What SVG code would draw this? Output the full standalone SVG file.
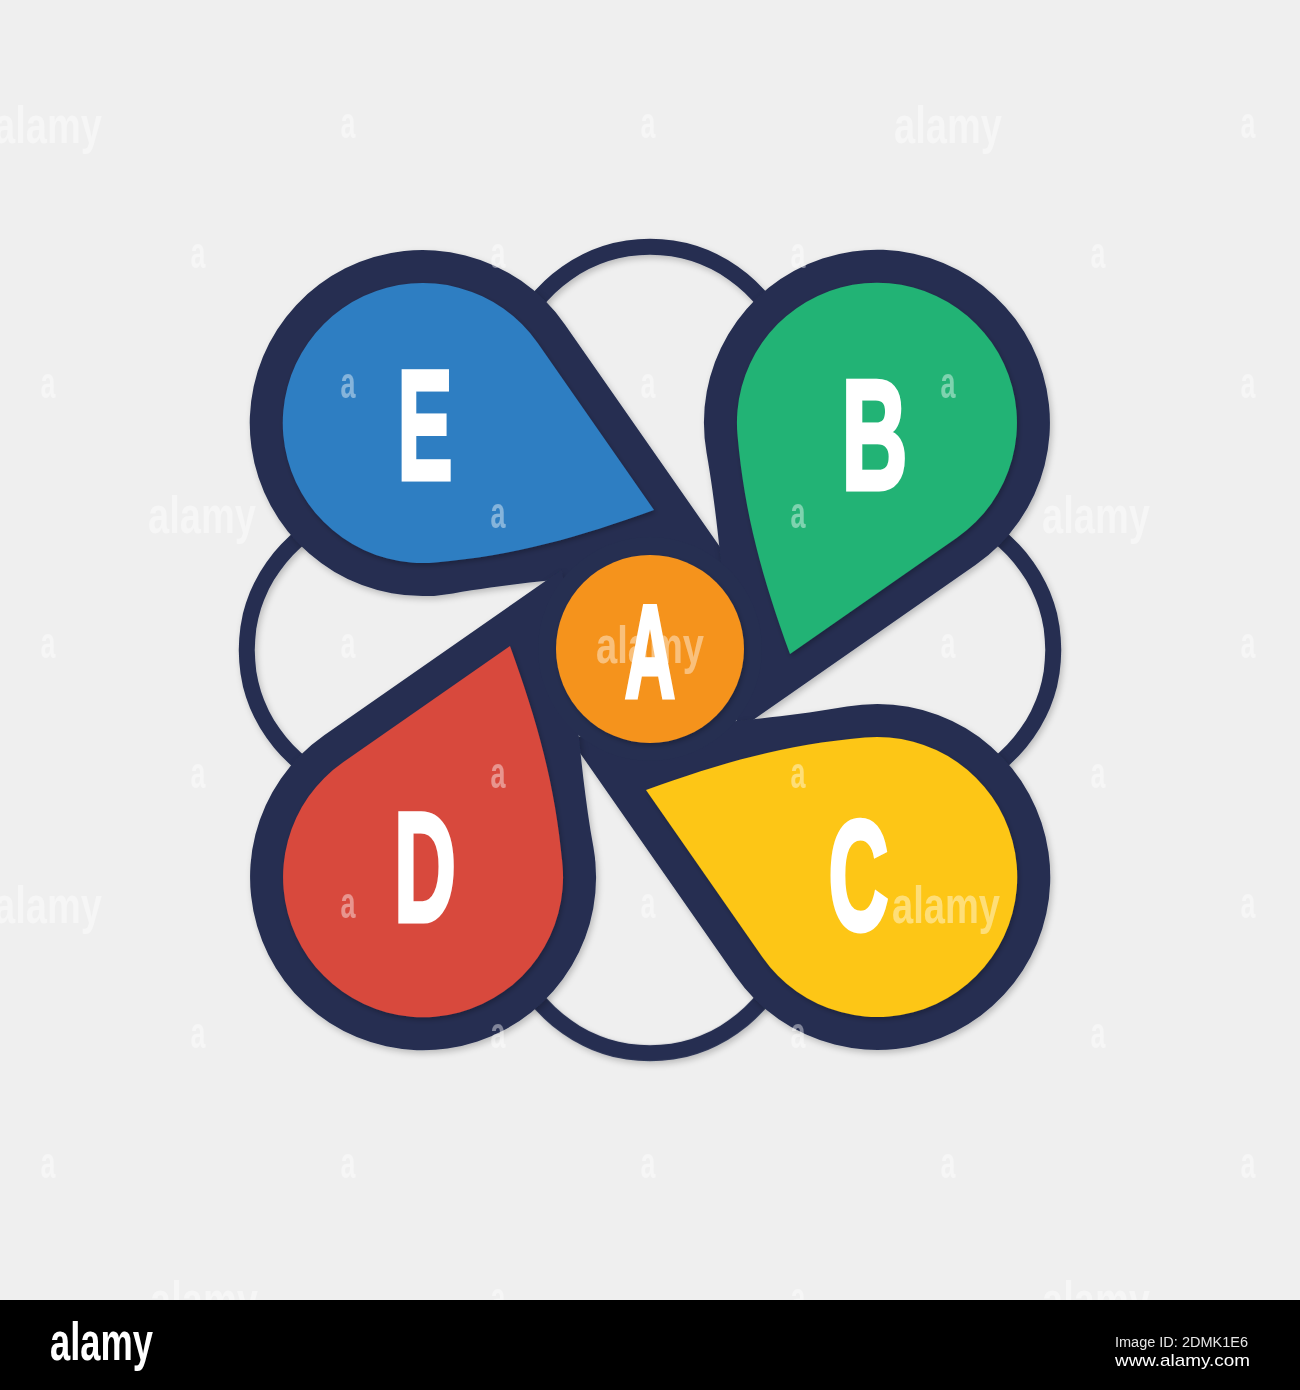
<svg xmlns="http://www.w3.org/2000/svg" xmlns:xlink="http://www.w3.org/1999/xlink" width="1300" height="1390" viewBox="0 0 1300 1390">
<defs>
<style>
.navy{fill:#262f51;}
.loop{fill:none;stroke:#262f51;stroke-width:16;}
.lbl{font-family:"Liberation Sans",Arial,sans-serif;font-weight:bold;fill:#ffffff;stroke:#ffffff;stroke-width:5;stroke-linejoin:miter;text-anchor:middle;}
.wm{font-family:"Liberation Sans",Arial,sans-serif;font-weight:bold;fill:#ffffff;fill-opacity:0.42;text-anchor:middle;}
.wa{font-size:44px;}
.wl{font-size:52px;}
</style>
<filter id="sh" x="-20%" y="-20%" width="140%" height="140%">
<feDropShadow dx="2" dy="3" stdDeviation="3" flood-color="#000000" flood-opacity="0.22"/>
</filter>
<filter id="sh2" x="-20%" y="-20%" width="140%" height="140%">
<feDropShadow dx="1.5" dy="2.5" stdDeviation="2.5" flood-color="#000000" flood-opacity="0.25"/>
</filter>
<path id="loopArc" d="M513.7,342.4 A145,145 0 0,1 786.3,342.4"/>
<path id="navyPetal" d="M730.3,561.7 L564.7,324.2 A173,173 0 1,0 453,593.4 C551.5,576 671.2,571.9 730.3,561.7 Z"/>
<path id="colorPetal" d="M654,510 L537.7,343.1 A140,140 0 1,0 435.2,562.5 C514.9,555.5 578.8,537.2 654,510 Z"/>
</defs>
<rect x="0" y="0" width="1300" height="1390" fill="#efefef"/>

<g id="loops" filter="url(#sh)">
<use xlink:href="#loopArc" class="loop"/>
<use xlink:href="#loopArc" class="loop" transform="rotate(90 650 650)"/>
<use xlink:href="#loopArc" class="loop" transform="rotate(180 650 650)"/>
<use xlink:href="#loopArc" class="loop" transform="rotate(270 650 650)"/>
</g>

<g id="node-E">
<g filter="url(#sh)"><use xlink:href="#navyPetal" class="navy"/></g>
<g filter="url(#sh2)"><use xlink:href="#colorPetal" fill="#2f7ec2"/></g>
<text class="lbl" x="425" y="478.5" font-size="155" textLength="55" lengthAdjust="spacingAndGlyphs">E</text>
</g>

<g id="node-B">
<g filter="url(#sh)"><use xlink:href="#navyPetal" class="navy" transform="rotate(90 650 650)"/></g>
<g filter="url(#sh2)"><use xlink:href="#colorPetal" fill="#23b374" transform="rotate(90 650 650)"/></g>
<text class="lbl" x="874.5" y="488.5" font-size="155" textLength="66" lengthAdjust="spacingAndGlyphs">B</text>
</g>

<g id="node-C">
<g filter="url(#sh)"><use xlink:href="#navyPetal" class="navy" transform="rotate(180 650 650)"/></g>
<g filter="url(#sh2)"><use xlink:href="#colorPetal" fill="#fdc612" transform="rotate(180 650 650)"/></g>
<text class="lbl" x="858.5" y="929" font-size="155" textLength="60" lengthAdjust="spacingAndGlyphs">C</text>
</g>

<g id="node-D">
<g filter="url(#sh)"><use xlink:href="#navyPetal" class="navy" transform="rotate(270 650 650)"/></g>
<g filter="url(#sh2)"><use xlink:href="#colorPetal" fill="#d8483d" transform="rotate(270 650 650)"/></g>
<text class="lbl" x="425" y="920.5" font-size="155" textLength="62" lengthAdjust="spacingAndGlyphs">D</text>
</g>

<g id="node-A">
<circle class="navy" cx="650" cy="649" r="112"/>
<circle cx="650" cy="649" r="94" fill="#f5931f" filter="url(#sh2)"/>
<text class="lbl" x="650" y="696.5" font-size="131" textLength="50" lengthAdjust="spacingAndGlyphs">A</text>
</g>

<g id="watermarks">
<text class="wm wl" x="48" y="143" textLength="108" lengthAdjust="spacingAndGlyphs">alamy</text>
<text class="wm wa" x="348" y="138" textLength="15" lengthAdjust="spacingAndGlyphs">a</text>
<text class="wm wa" x="648" y="138" textLength="15" lengthAdjust="spacingAndGlyphs">a</text>
<text class="wm wl" x="948" y="143" textLength="108" lengthAdjust="spacingAndGlyphs">alamy</text>
<text class="wm wa" x="1248" y="138" textLength="15" lengthAdjust="spacingAndGlyphs">a</text>

<text class="wm wa" x="198" y="268" textLength="15" lengthAdjust="spacingAndGlyphs">a</text>
<text class="wm wa" x="498" y="268" textLength="15" lengthAdjust="spacingAndGlyphs">a</text>
<text class="wm wa" x="798" y="268" textLength="15" lengthAdjust="spacingAndGlyphs">a</text>
<text class="wm wa" x="1098" y="268" textLength="15" lengthAdjust="spacingAndGlyphs">a</text>

<text class="wm wa" x="48" y="398" textLength="15" lengthAdjust="spacingAndGlyphs">a</text>
<text class="wm wa" x="348" y="398" textLength="15" lengthAdjust="spacingAndGlyphs">a</text>
<text class="wm wa" x="648" y="398" textLength="15" lengthAdjust="spacingAndGlyphs">a</text>
<text class="wm wa" x="948" y="398" textLength="15" lengthAdjust="spacingAndGlyphs">a</text>
<text class="wm wa" x="1248" y="398" textLength="15" lengthAdjust="spacingAndGlyphs">a</text>

<text class="wm wl" x="202" y="533" textLength="108" lengthAdjust="spacingAndGlyphs">alamy</text>
<text class="wm wa" x="498" y="528" textLength="15" lengthAdjust="spacingAndGlyphs">a</text>
<text class="wm wa" x="798" y="528" textLength="15" lengthAdjust="spacingAndGlyphs">a</text>
<text class="wm wl" x="1096" y="533" textLength="108" lengthAdjust="spacingAndGlyphs">alamy</text>

<text class="wm wa" x="48" y="658" textLength="15" lengthAdjust="spacingAndGlyphs">a</text>
<text class="wm wa" x="348" y="658" textLength="15" lengthAdjust="spacingAndGlyphs">a</text>
<text class="wm wl" x="650" y="663" textLength="108" lengthAdjust="spacingAndGlyphs">alamy</text>
<text class="wm wa" x="948" y="658" textLength="15" lengthAdjust="spacingAndGlyphs">a</text>
<text class="wm wa" x="1248" y="658" textLength="15" lengthAdjust="spacingAndGlyphs">a</text>

<text class="wm wa" x="198" y="788" textLength="15" lengthAdjust="spacingAndGlyphs">a</text>
<text class="wm wa" x="498" y="788" textLength="15" lengthAdjust="spacingAndGlyphs">a</text>
<text class="wm wa" x="798" y="788" textLength="15" lengthAdjust="spacingAndGlyphs">a</text>
<text class="wm wa" x="1098" y="788" textLength="15" lengthAdjust="spacingAndGlyphs">a</text>

<text class="wm wl" x="48" y="923" textLength="108" lengthAdjust="spacingAndGlyphs">alamy</text>
<text class="wm wa" x="348" y="918" textLength="15" lengthAdjust="spacingAndGlyphs">a</text>
<text class="wm wa" x="648" y="918" textLength="15" lengthAdjust="spacingAndGlyphs">a</text>
<text class="wm wl" x="946" y="923" textLength="108" lengthAdjust="spacingAndGlyphs">alamy</text>
<text class="wm wa" x="1248" y="918" textLength="15" lengthAdjust="spacingAndGlyphs">a</text>

<text class="wm wa" x="198" y="1048" textLength="15" lengthAdjust="spacingAndGlyphs">a</text>
<text class="wm wa" x="498" y="1048" textLength="15" lengthAdjust="spacingAndGlyphs">a</text>
<text class="wm wa" x="798" y="1048" textLength="15" lengthAdjust="spacingAndGlyphs">a</text>
<text class="wm wa" x="1098" y="1048" textLength="15" lengthAdjust="spacingAndGlyphs">a</text>

<text class="wm wa" x="48" y="1178" textLength="15" lengthAdjust="spacingAndGlyphs">a</text>
<text class="wm wa" x="348" y="1178" textLength="15" lengthAdjust="spacingAndGlyphs">a</text>
<text class="wm wa" x="648" y="1178" textLength="15" lengthAdjust="spacingAndGlyphs">a</text>
<text class="wm wa" x="948" y="1178" textLength="15" lengthAdjust="spacingAndGlyphs">a</text>
<text class="wm wa" x="1248" y="1178" textLength="15" lengthAdjust="spacingAndGlyphs">a</text>

<text class="wm wl" x="204" y="1318" textLength="108" lengthAdjust="spacingAndGlyphs">alamy</text>
<text class="wm wa" x="498" y="1313" textLength="15" lengthAdjust="spacingAndGlyphs">a</text>
<text class="wm wa" x="798" y="1313" textLength="15" lengthAdjust="spacingAndGlyphs">a</text>
<text class="wm wl" x="1096" y="1318" textLength="108" lengthAdjust="spacingAndGlyphs">alamy</text>
</g>

<g id="footer">
<rect x="0" y="1300" width="1300" height="90" fill="#000000"/>
<text x="50" y="1360" font-family="Liberation Sans, Arial, sans-serif" font-weight="bold" font-size="54" fill="#ffffff" textLength="103" lengthAdjust="spacingAndGlyphs">alamy</text>
<text x="1248" y="1347" font-family="Liberation Sans, Arial, sans-serif" font-size="14" fill="#e6e6e6" text-anchor="end" textLength="133" lengthAdjust="spacingAndGlyphs">Image ID: 2DMK1E6</text>
<text x="1250" y="1366" font-family="Liberation Sans, Arial, sans-serif" font-size="17" fill="#ffffff" text-anchor="end" textLength="135" lengthAdjust="spacingAndGlyphs">www.alamy.com</text>
</g>
</svg>
